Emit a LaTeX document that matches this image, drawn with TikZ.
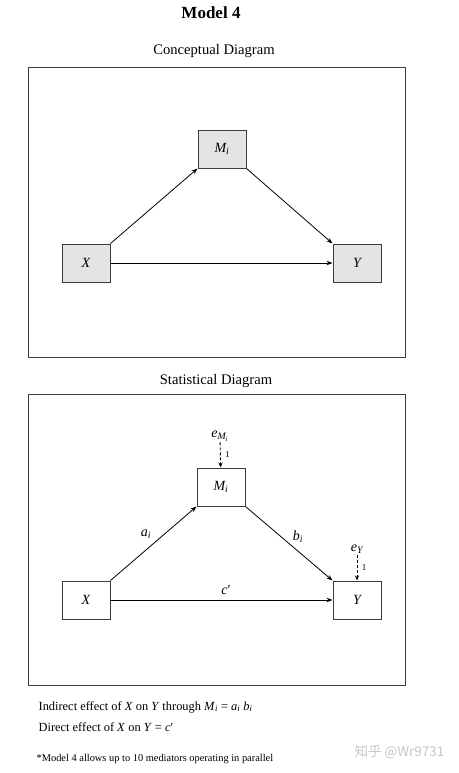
\documentclass[tikz,border=0pt]{standalone}
\usepackage{fontspec}
\setmainfont{Liberation Serif}
\newfontfamily\cjk{Noto Sans CJK SC}
\usepackage{tikz}
\usepackage{xcolor}
\usetikzlibrary{arrows.meta,positioning}
\definecolor{boxgray}{HTML}{E4E4E4}
\definecolor{linegray}{HTML}{3C3C3C}
\tikzstyle{var} = [rectangle, draw=linegray, line width=1pt, minimum width=48pt, minimum height=38pt, inner sep=0pt, font=\fontsize{14}{16}\selectfont\itshape]
\tikzstyle{cvar} = [var, fill=boxgray]
\tikzstyle{frame} = [draw=linegray, line width=0.9pt]
\tikzstyle{path} = [-{Stealth[length=6pt,width=4.5pt]}, line width=0.8pt]
\tikzstyle{err} = [-{Stealth[length=5pt,width=4pt]}, dashed, dash pattern=on 3pt off 2pt, line width=0.9pt]
\tikzstyle{lab} = [font=\fontsize{14}{16}\selectfont\itshape, inner sep=1pt]
\newcommand{\Mi}{\textit{M}\textsubscript{\textit{i}}}

\begin{document}
\begin{tikzpicture}[x=1pt,y=-1pt,auto,semithick]
  \useasboundingbox (0,0) rectangle (458,773);
  \node[font=\fontsize{17}{19}\selectfont\bfseries] (title) at (211,13) {Model 4};

  % conceptual diagram
  \node[font=\fontsize{14.6}{17}\selectfont] (ctitle) at (214,51) {Conceptual Diagram};
  \draw[frame] (28,67) rectangle (405,357);
  \node[cvar] (cX) at (86,263) {X};
  \node[cvar] (cM) at (222,149) {\Mi};
  \node[cvar] (cY) at (357,263) {Y};
  \draw[path] (cX.north east) -- (cM.south west);
  \draw[path] (cM.south east) -- (cY.north west);
  \draw[path] (cX) -- (cY);

  % statistical diagram
  \node[font=\fontsize{14.6}{17}\selectfont] (stitle) at (216,381) {Statistical Diagram};
  \draw[frame] (28,394) rectangle (405,685);
  \node[var] (sX) at (86,600) {X};
  \node[var] (sM) at (221,487) {\Mi};
  \node[var] (sY) at (357,600) {Y};
  \node[lab] (eM) at (220,436) {e\textsubscript{\Mi}};
  \node[lab] (eY) at (357,549) {e\textsubscript{Y}};
  \draw[err] (eM) -- node[font=\fontsize{9}{10}\selectfont, right=1pt] (oneM) {1} (sM);
  \draw[err] (eY) -- node[font=\fontsize{9}{10}\selectfont, right=1pt] (oneY) {1} (sY);
  \draw[path] (sX.north east) -- (sM.south west);
  \draw[path] (sM.south east) -- (sY.north west);
  \draw[path] (sX) -- (sY);
  \node[lab] (a) at (146,534) {a\textsubscript{i}};
  \node[lab] (b) at (298,537) {b\textsubscript{i}};
  \node[font=\fontsize{14}{16}\selectfont] (c) at (226,590) {\textit{c}′};

  % effects
  \node[anchor=west, font=\fontsize{12.4}{14}\selectfont] (ind) at (35,707) {Indirect effect of \textit{X} on \textit{Y} through \Mi{} = \textit{a\textsubscript{i} b\textsubscript{i}}};
  \node[anchor=west, font=\fontsize{12.4}{14}\selectfont] (dir) at (35,727) {Direct effect of \textit{X} on \textit{Y} = \textit{c}′};
  \node[anchor=west, font=\fontsize{10.4}{12}\selectfont] (note) at (33,759) {*Model 4 allows up to 10 mediators operating in parallel};
  \node[anchor=east, text=gray!45, font=\fontsize{13.5}{15}\selectfont\cjk] (wm) at (448,752) {知乎 @Wr9731};
\end{tikzpicture}
\end{document}
